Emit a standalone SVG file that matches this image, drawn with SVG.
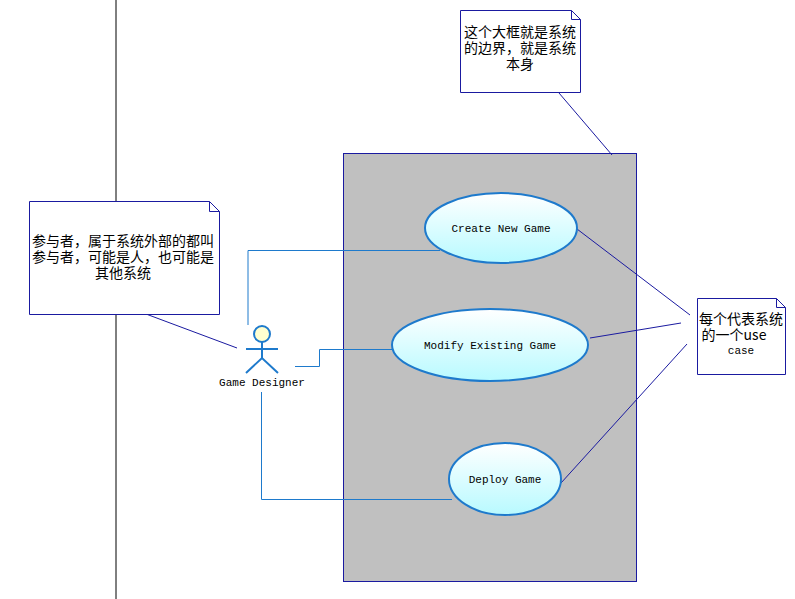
<svg xmlns="http://www.w3.org/2000/svg" width="795" height="599" viewBox="0 0 795 599">
<defs>
<linearGradient id="uc" x1="0" y1="0" x2="0" y2="1"><stop offset="0" stop-color="#FFFFFF"/><stop offset="1" stop-color="#B8FAFF"/></linearGradient>
</defs>
<style>
.uc{fill:url(#uc);stroke:#1E7ACC;stroke-width:2}
.lbl{font-family:"Liberation Mono","DejaVu Sans Mono",monospace;font-size:11px;text-anchor:middle;fill:#000}
.note{fill:#fff;stroke:#1a1aa0;stroke-width:1}
.nt{font-family:"Noto Sans CJK SC",sans-serif;font-size:14px;text-anchor:middle;fill:#000}
.nl{stroke:#1a1aa0;fill:none;stroke-width:1}
.al{stroke:#1E7ACC;fill:none;stroke-width:1}
</style>
<rect width="795" height="599" fill="#fff"/>
<line x1="116" y1="0" x2="116" y2="599" stroke="#000"/>
<g id="system"><rect x="343.5" y="153.5" width="293" height="428" fill="#C0C0C0" stroke="#1a1aa0"/></g>
<g id="connectors">
<polyline class="al" points="248,325 248,250.5 440,250.5"/>
<polyline class="al" points="295,366.5 319.5,366.5 319.5,349.5 392,349.5"/>
<polyline class="al" points="261.5,392 261.5,499.5 452,499.5"/>
<line class="nl" x1="146" y1="314" x2="237" y2="348"/>
<line class="nl" x1="559" y1="93" x2="612" y2="155"/>
<line class="nl" x1="577" y1="229" x2="690" y2="315"/>
<line class="nl" x1="590" y1="338" x2="681" y2="323"/>
<line class="nl" x1="561" y1="483" x2="687" y2="344"/>
</g>
<g id="create"><ellipse class="uc" cx="501" cy="228" rx="76" ry="35"/><text class="lbl" x="501" y="232">Create New Game</text></g>
<g id="modify"><ellipse class="uc" cx="490" cy="345" rx="98" ry="36"/><text class="lbl" x="490" y="349">Modify Existing Game</text></g>
<g id="deploy"><ellipse class="uc" cx="505" cy="479" rx="56" ry="36"/><text class="lbl" x="505" y="483">Deploy Game</text></g>
<g id="actor" stroke="#1E7ACC" stroke-width="2" fill="none">
<circle cx="262" cy="334" r="8" fill="#FFFFD0"/>
<line x1="262" y1="342" x2="262" y2="358"/>
<line x1="246" y1="349" x2="278" y2="349"/>
<polyline points="246,373 262,358 278,373"/>
<text class="lbl" x="262" y="386" stroke="none">Game Designer</text>
</g>
<g id="note-actor"><path class="note" d="M29.5,201.5 H209.5 L219.5,211.5 V314.5 H29.5 Z M209.5,201.5 V211.5 H219.5"/>
<text class="nt" x="123" y="246">参与者，属于系统外部的都叫</text><text class="nt" x="123" y="262">参与者，可能是人，也可能是</text><text class="nt" x="123" y="278">其他系统</text></g>
<g id="note-system"><path class="note" d="M460.5,10.5 H571.5 L580.5,19.5 V92.5 H460.5 Z M571.5,10.5 V19.5 H580.5"/>
<text class="nt" x="520" y="37">这个大框就是系统</text><text class="nt" x="520" y="53">的边界，就是系统</text><text class="nt" x="520" y="69">本身</text></g>
<g id="note-uc"><path class="note" d="M697.5,298.5 H776.5 L785.5,307.5 V374.5 H697.5 Z M776.5,298.5 V307.5 H785.5"/>
<text class="nt" x="741" y="324">每个代表系统</text><text class="nt" x="734" y="340">的一个use</text><text class="lbl" x="741" y="354">case</text></g>
</svg>
